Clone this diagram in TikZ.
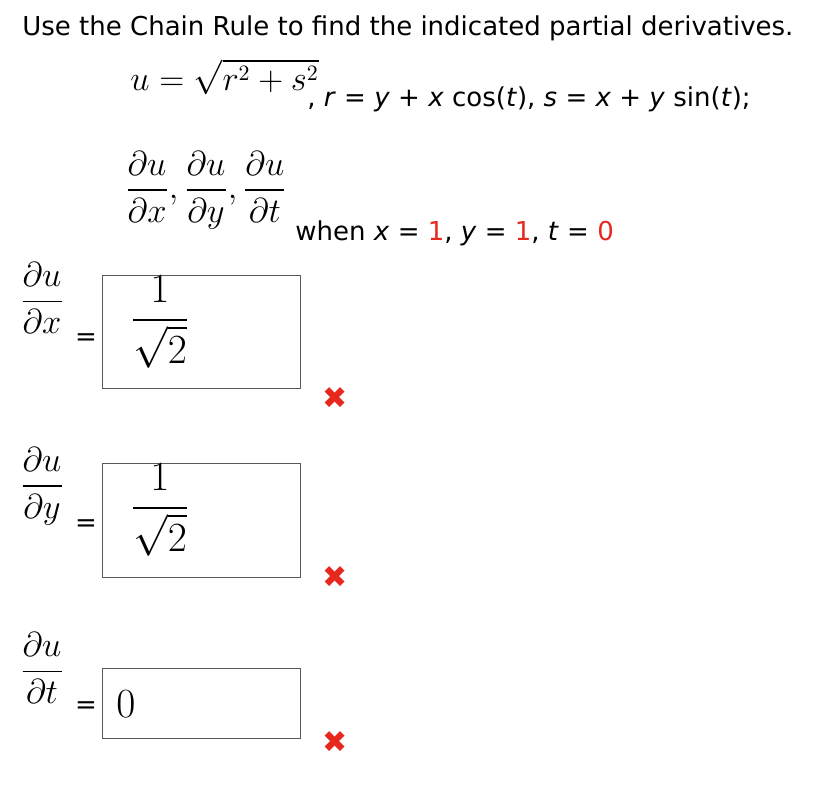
\documentclass[tikz,border=0pt]{standalone}
\usepackage{amsmath}
\usepackage{fontspec}
\setmainfont{DejaVu Sans}
\begin{document}
\begin{tikzpicture}[x=0.5pt,y=-0.5pt,
  txt/.style={inner sep=0pt,font=\fontsize{13}{15}\selectfont},
  mth/.style={inner sep=0pt,font=\fontsize{16}{18}\selectfont},
  lmth/.style={inner sep=0pt,font=\fontsize{18}{20}\selectfont},
  amth/.style={inner sep=0pt,font=\fontsize{21}{24}\selectfont},
  ansbox/.style={draw=gray!70!black,line width=0.6pt,minimum width=99pt,inner sep=0pt},
  wrong/.style={text=ansred,inner sep=0pt,font=\fontsize{15}{15}\selectfont}]
\definecolor{ansred}{RGB}{230,40,30}
\useasboundingbox (0,0) rectangle (828,788);
\node[txt,anchor=base west] (title) at (22,35) {Use the Chain Rule to find the indicated partial derivatives.};
\node[mth,anchor=base west] (ueq) at (130,90) {$u=\sqrt{r^2+s^2}$};
\node[txt,anchor=base west] (rs) at (307,106) {, \textit{r} = \textit{y} + \textit{x} cos(\textit{t}), \textit{s} = \textit{x} + \textit{y} sin(\textit{t});};
\node[mth,anchor=center] (fracs) at (206,190) {$\dfrac{\partial u}{\partial x},\dfrac{\partial u}{\partial y},\dfrac{\partial u}{\partial t}$};
\node[txt,anchor=base west] (when) at (295,240) {when \textit{x} = \textcolor{ansred}{1}, \textit{y} = \textcolor{ansred}{1}, \textit{t} = \textcolor{ansred}{0}};
% row 1
\node[lmth] (dx) at (42,298) {$\dfrac{\partial u}{\partial x}$};
\node[txt] (eq1) at (86,340) {=};
\node[ansbox,minimum height=56.5pt,anchor=north west] (box1) at (102,275) {};
\node[amth,anchor=center] (a1) at (160,322) {$\dfrac{1}{\sqrt{2}}$};
\node[wrong] (x1) at (335,398) {✖};
% row 2
\node[lmth] (dy) at (42,486) {$\dfrac{\partial u}{\partial y}$};
\node[txt] (eq2) at (86,526) {=};
\node[ansbox,minimum height=57pt,anchor=north west] (box2) at (102,463) {};
\node[amth,anchor=center] (a2) at (160,510) {$\dfrac{1}{\sqrt{2}}$};
\node[wrong] (x2) at (335,577) {✖};
% row 3
\node[lmth] (dt) at (42,668) {$\dfrac{\partial u}{\partial t}$};
\node[txt] (eq3) at (86,708) {=};
\node[ansbox,minimum height=35pt,anchor=north west] (box3) at (102,668) {};
\node[amth,anchor=center] (a3) at (126,704) {$0$};
\node[wrong] (x3) at (335,742) {✖};
\end{tikzpicture}
\end{document}
